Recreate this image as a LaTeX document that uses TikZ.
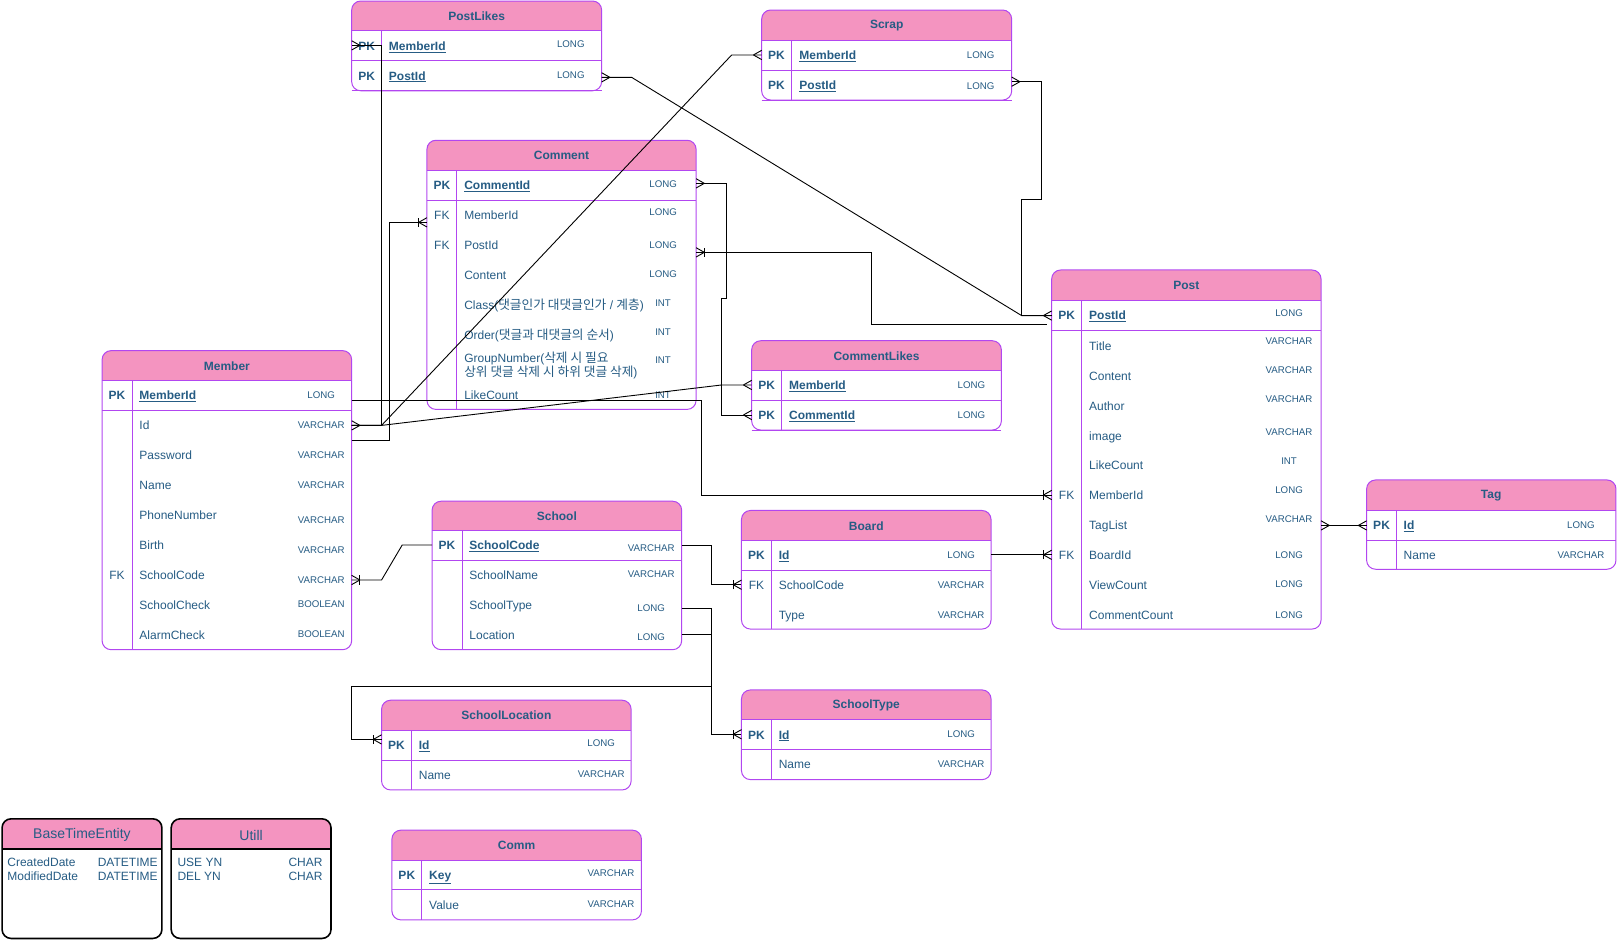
\documentclass[tikz,border=0pt]{standalone}
\usepackage{fontspec}
\setmainfont{Liberation Sans}
\newfontfamily\kr[Scale=1.06]{Noto Sans CJK KR}
\usetikzlibrary{calc}
\definecolor{hdr}{RGB}{244,148,192}
\definecolor{tbls}{RGB}{178,70,240}
\definecolor{tc}{RGB}{38,92,132}
\tikzset{
  tline/.style={draw=tbls, line width=1pt},
  conn/.style={draw=black, line width=0.9pt},
  ttl/.style={font=\bfseries\fontsize{12}{14}\selectfont, text=tc, inner sep=0pt},
  keyt/.style={font=\fontsize{12}{14}\selectfont, text=tc, inner sep=0pt, text height=8.6pt, text depth=0pt},
  keyb/.style={keyt, font=\bfseries\fontsize{12}{14}\selectfont},
  fld/.style={anchor=west, font=\fontsize{12}{14}\selectfont, text=tc, inner sep=0pt, text height=8.6pt, text depth=0pt},
  pkf/.style={fld, font=\bfseries\fontsize{12}{14}\selectfont},
  typt/.style={font=\fontsize{9.7}{11}\selectfont, text=tc, inner sep=0pt, text height=6.9pt, text depth=0pt},
  plain/.style={font=\fontsize{12}{14}\selectfont, text=tc, inner sep=0pt, text height=8.6pt, text depth=0pt},
}
% frame: x, top, right, header bottom, pk line, bottom, divider x
\newcommand\tframe[7]{%
  \begin{scope}
    \clip[rounded corners=9] (#1,#2) rectangle (#3,#6);
    \fill[white] (#1,#2) rectangle (#3,#6);
    \fill[hdr] (#1,#2) rectangle (#3,#4);
  \end{scope}
  \draw[tline] (#1,#4) -- (#3,#4);
  \draw[tline] (#1,#5) -- (#3,#5);
  \draw[tline] (#7,#4) -- (#7,#6);
  \draw[tline, rounded corners=9] (#1,#2) rectangle (#3,#6);
}
% black frame: x, top, right, bottom
\newcommand\bframe[4]{%
  \begin{scope}
    \clip[rounded corners=9] (#1,#2) rectangle (#3,#4);
    \fill[white] (#1,#2) rectangle (#3,#4);
    \fill[hdr] (#1,#2) rectangle (#3,#2+29);
  \end{scope}
  \draw[black, line width=1.6pt] (#1,#2+29) -- (#3,#2+29);
  \draw[black, line width=1.6pt, rounded corners=9] (#1,#2) rectangle (#3,#4);
}
\newcommand\pkrow[5]{%
  \node[keyb] (#1-k) at (\kx,#2) {PK};
  \node[pkf] (#1) at (\nx,#2) {\underline{#3}};
  \node[typt] (#1-t) at (\tx,#4) {#5};}
\newcommand\frow[6]{%
  \node[keyt] (#1-k) at (\kx,#2) {#3};
  \node[fld] (#1) at (\nx,#2) {#4};
  \node[typt] (#1-t) at (\tx,#5) {#6};}
\newcommand\crow[2]{\draw[conn] ($(#1)+(#2*8,0)$) -- ($(#1)+(0,4.5)$) ($(#1)+(#2*8,0)$) -- ($(#1)+(0,-4.5)$);}
\newcommand\obar[2]{\draw[conn] ($(#1)+(#2*8,4.5)$) -- ($(#1)+(#2*8,-4.5)$);}
\begin{document}
\begin{tikzpicture}[x=1.0313pt, y=-1.0313pt]
\useasboundingbox (0,0) rectangle (1568,912.4);

% ---------- PostLikes
\tframe{341}{1}{583.4}{30}{59}{88}{370}
\draw[tline] (341,88) -- (583.4,88);
\node[ttl] (PostLikes) at (462.2,15.5) {PostLikes};
\def\kx{355.5}\def\nx{377}\def\tx{553.5}
\pkrow{pl-MemberId}{44.5}{MemberId}{43}{LONG}
\pkrow{pl-PostId}{73.5}{PostId}{73}{LONG}

% ---------- Scrap
\tframe{738.6}{9.7}{981}{39.4}{68.5}{97}{767.7}
\draw[tline] (738.6,97) -- (981,97);
\node[ttl] (Scrap) at (859.8,24.5) {Scrap};
\def\kx{753}\def\nx{775}\def\tx{951}
\pkrow{sc-MemberId}{54}{MemberId}{53}{LONG}
\pkrow{sc-PostId}{83}{PostId}{83}{LONG}

% ---------- Comment
\tframe{414}{136}{675}{165}{194}{397}{443}
\node[ttl] (Comment) at (544.5,150.5) {Comment};
\def\kx{428.5}\def\nx{450}\def\tx{643}
\pkrow{com-CommentId}{180}{CommentId}{178}{LONG}
\frow{com-MemberId}{209}{FK}{MemberId}{206}{LONG}
\frow{com-PostId}{238}{FK}{PostId}{238}{LONG}
\frow{com-Content}{267}{}{Content}{266}{LONG}
\frow{com-Class}{296}{}{Class({\kr 댓글인가 대댓글인가} / {\kr 계층})}{294}{INT}
\frow{com-Order}{325}{}{Order({\kr 댓글과 대댓글의 순서})}{322}{INT}
\frow{com-Group}{347.5}{}{GroupNumber({\kr 삭제 시 필요}}{349}{INT}
\node[fld] (com-Group2) at (\nx,360.5) {{\kr 상위 댓글 삭제 시 하위 댓글 삭제})};
\frow{com-LikeCount}{383.5}{}{LikeCount}{383}{INT}

% ---------- Member
\tframe{99}{340}{341}{369}{398}{630}{128}
\node[ttl] (Member) at (220,355) {Member};
\def\kx{113.5}\def\nx{135}\def\tx{311.5}
\pkrow{mem-MemberId}{383.5}{MemberId}{383}{LONG}
\frow{mem-Id}{412.5}{}{Id}{412}{VARCHAR}
\frow{mem-Password}{441.5}{}{Password}{441}{VARCHAR}
\frow{mem-Name}{470.5}{}{Name}{470}{VARCHAR}
\frow{mem-Phone}{499.5}{}{PhoneNumber}{504}{VARCHAR}
\frow{mem-Birth}{528.5}{}{Birth}{533}{VARCHAR}
\frow{mem-SchoolCode}{557.5}{FK}{SchoolCode}{562}{VARCHAR}
\frow{mem-SchoolCheck}{586.5}{}{SchoolCheck}{586}{BOOLEAN}
\frow{mem-AlarmCheck}{615.5}{}{AlarmCheck}{615}{BOOLEAN}

% ---------- CommentLikes
\tframe{728.9}{330.4}{971}{359.4}{388.5}{417}{757.9}
\draw[tline] (728.9,417) -- (971,417);
\node[ttl] (CommentLikes) at (850,345) {CommentLikes};
\def\kx{743.4}\def\nx{765}\def\tx{942}
\pkrow{cl-MemberId}{374}{MemberId}{373}{LONG}
\pkrow{cl-CommentId}{403}{CommentId}{402}{LONG}

% ---------- Post
\tframe{1019.8}{261.8}{1281}{291.5}{320.7}{610}{1048.5}
\node[ttl] (Post) at (1150.4,277) {Post};
\def\kx{1034.3}\def\nx{1056}\def\tx{1250}
\pkrow{po-PostId}{306}{PostId}{304}{LONG}
\frow{po-Title}{335.5}{}{Title}{331}{VARCHAR}
\frow{po-Content}{364.5}{}{Content}{359}{VARCHAR}
\frow{po-Author}{393.5}{}{Author}{387}{VARCHAR}
\frow{po-image}{422.5}{}{image}{419}{VARCHAR}
\frow{po-LikeCount}{451.5}{}{LikeCount}{447}{INT}
\frow{po-MemberId}{480.5}{FK}{MemberId}{475}{LONG}
\frow{po-TagList}{509.5}{}{TagList}{503}{VARCHAR}
\frow{po-BoardId}{538.5}{FK}{BoardId}{538}{LONG}
\frow{po-ViewCount}{567.5}{}{ViewCount}{566}{LONG}
\frow{po-CommentCount}{596.5}{}{CommentCount}{596}{LONG}

% ---------- Tag
\tframe{1325.2}{465.4}{1567}{495.2}{524.3}{552}{1354.3}
\node[ttl] (Tag) at (1446,480.8) {Tag};
\def\kx{1339.7}\def\nx{1361}\def\tx{1533}
\pkrow{tag-Id}{509.5}{Id}{509}{LONG}
\frow{tag-Name}{538.5}{}{Name}{538}{VARCHAR}

% ---------- School
\tframe{419}{486}{661}{514.5}{543.5}{630}{448}
\node[ttl] (School) at (540,500.5) {School};
\def\kx{433.5}\def\nx{455}\def\tx{631.5}
\pkrow{sch-SchoolCode}{529}{SchoolCode}{531}{VARCHAR}
\frow{sch-SchoolName}{558}{}{SchoolName}{557}{VARCHAR}
\frow{sch-SchoolType}{587}{}{SchoolType}{590}{LONG}
\frow{sch-Location}{616}{}{Location}{618}{LONG}

% ---------- Board
\tframe{719}{495}{961}{524}{553}{610}{748}
\node[ttl] (Board) at (840,510) {Board};
\def\kx{733.5}\def\nx{755}\def\tx{932}
\pkrow{bo-Id}{538.5}{Id}{538}{LONG}
\frow{bo-SchoolCode}{567.5}{FK}{SchoolCode}{567}{VARCHAR}
\frow{bo-Type}{596.5}{}{Type}{596}{VARCHAR}

% ---------- SchoolLocation
\tframe{370}{679}{612}{708}{737}{766}{399}
\node[ttl] (SchoolLocation) at (491,694) {SchoolLocation};
\def\kx{384.5}\def\nx{406}\def\tx{583}
\pkrow{sl-Id}{722.5}{Id}{721}{LONG}
\frow{sl-Name}{751.5}{}{Name}{751}{VARCHAR}

% ---------- SchoolType
\tframe{719}{669}{961}{698}{727}{756}{748}
\node[ttl] (SchoolType) at (840,684) {SchoolType};
\def\kx{733.5}\def\nx{755}\def\tx{932}
\pkrow{st-Id}{712.5}{Id}{712}{LONG}
\frow{st-Name}{741.5}{}{Name}{741}{VARCHAR}

% ---------- Comm
\tframe{380}{805}{622}{834}{863}{892}{409}
\node[ttl] (Comm) at (501,820) {Comm};
\def\kx{394.5}\def\nx{416}\def\tx{592.5}
\pkrow{cm-Key}{848.5}{Key}{847}{VARCHAR}
\frow{cm-Value}{877.5}{}{Value}{877}{VARCHAR}

% ---------- BaseTimeEntity / Utill
\bframe{2}{794}{157}{910}
\node[font=\fontsize{14}{16}\selectfont, text=tc, inner sep=0pt] (BTE) at (79.5,810) {BaseTimeEntity};
\node[plain, anchor=west] (bte-c) at (7,836.5) {CreatedDate};
\node[plain, anchor=east] (bte-ct) at (153,836.5) {DATETIME};
\node[plain, anchor=west] (bte-m) at (7,850) {ModifiedDate};
\node[plain, anchor=east] (bte-mt) at (153,850) {DATETIME};
\bframe{166}{794}{321}{910}
\node[font=\fontsize{14}{16}\selectfont, text=tc, inner sep=0pt] (Utill) at (243.5,810) {Utill};
\node[plain, anchor=west] (ut-u) at (172,836.5) {USE YN};
\node[plain, anchor=east] (ut-ut) at (313,836.5) {CHAR};
\node[plain, anchor=west] (ut-d) at (172,850) {DEL YN};
\node[plain, anchor=east] (ut-dt) at (313,850) {CHAR};

% ---------- connector end points
\coordinate (memPK) at (341,388.5);
\coordinate (memId) at (341,412.5);
\coordinate (memC) at (341,426.7);
\coordinate (memSC) at (341,562.4);
\coordinate (plMem) at (341,44);
\coordinate (plPost) at (583.4,75);
\coordinate (scMem) at (738.6,53.3);
\coordinate (scPost) at (981,79.2);
\coordinate (clMem) at (728.9,373.3);
\coordinate (clCom) at (728.9,402.4);
\coordinate (comId) at (675,177.8);
\coordinate (comMem) at (414,215.6);
\coordinate (comPost) at (675,244.7);
\coordinate (postPK) at (1019.8,306);
\coordinate (postPK2) at (1015,315);
\coordinate (postMem) at (1019.8,480);
\coordinate (postBoard) at (1019.8,538);
\coordinate (postTag) at (1281,509.5);
\coordinate (tagId) at (1325.2,509.5);
\coordinate (boardId) at (961,538);
\coordinate (boardSC) at (719,567);
\coordinate (schSC) at (419,528.5);
\coordinate (schSCr) at (661,528.5);
\coordinate (schType) at (661,590);
\coordinate (schLoc) at (661,615);
\coordinate (stId) at (719,712);
\coordinate (slId) at (370,717);

% ---------- connectors
\draw[conn] (memPK) -- (680,388.5) -- (680,480) -- (postMem);
\crow{postMem}{-1}\obar{postMem}{-1}
\draw[conn] (memId) -- (370,412.5) -- (370,44) -- (plMem);
\crow{memId}{1}\crow{plMem}{1}
\draw[conn] (memId) -- (370,412.5) -- (709.5,53.3) -- (scMem);
\crow{scMem}{-1}
\draw[conn] (memId) -- (370,412.5) -- (699.8,373.3) -- (clMem);
\crow{clMem}{-1}
\draw[conn] (memC) -- (377.5,426.7) -- (377.5,215.6) -- (comMem);
\crow{comMem}{-1}\obar{comMem}{-1}
\draw[conn] (comPost) -- (845.2,244.7) -- (845.2,315) -- (postPK2);
\crow{comPost}{1}\obar{comPost}{1}
\draw[conn] (plPost) -- (612.5,75) -- (990.6,306) -- (postPK);
\crow{plPost}{1}\crow{postPK}{-1}
\draw[conn] (scPost) -- (1010,79.2) -- (1010,193) -- (990.6,193) -- (990.6,306) -- (postPK);
\crow{scPost}{1}
\draw[conn] (comId) -- (704.6,177.8) -- (704.6,289.3) -- (699.8,289.3) -- (699.8,402.4) -- (clCom);
\crow{comId}{1}\crow{clCom}{-1}
\draw[conn] (memSC) -- (370,562.4) -- (390,528.5) -- (schSC);
\crow{memSC}{1}\obar{memSC}{1}
\draw[conn] (schSCr) -- (690,528.5) -- (690,567) -- (boardSC);
\crow{boardSC}{-1}\obar{boardSC}{-1}
\draw[conn] (schType) -- (690,590) -- (690,712) -- (stId);
\crow{stId}{-1}\obar{stId}{-1}
\draw[conn] (schLoc) -- (690,615) -- (690,666) -- (341,666) -- (341,717) -- (slId);
\crow{slId}{-1}\obar{slId}{-1}
\draw[conn] (boardId) -- (postBoard);
\crow{postBoard}{-1}\obar{postBoard}{-1}
\draw[conn] (postTag) -- (tagId);
\crow{postTag}{1}\crow{tagId}{-1}
\end{tikzpicture}
\end{document}
